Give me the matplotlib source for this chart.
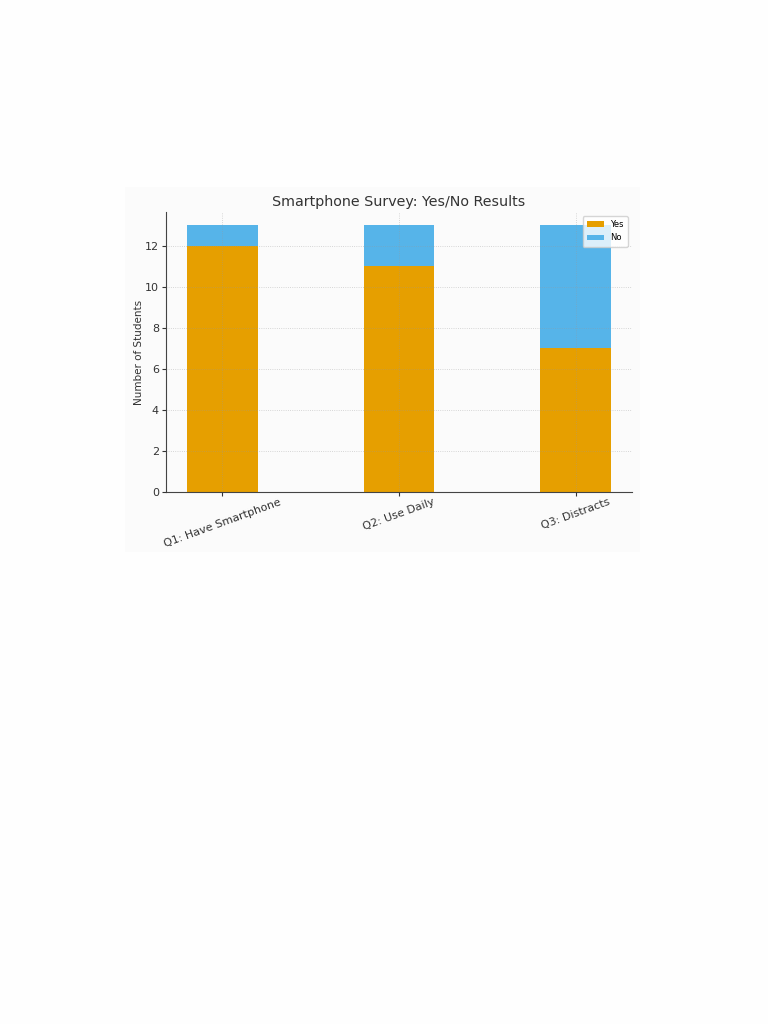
import matplotlib
matplotlib.use('Agg')
import matplotlib.pyplot as plt
from matplotlib.patches import Rectangle

# Survey data
questions = ['Q1: Have Smartphone', 'Q2: Use Daily', 'Q3: Distracts']
yes_counts = [12, 11, 7]
no_counts = [1, 2, 6]

yes_color = '#E69F00'
no_color = '#56B4E9'
text_color = '#333333'

fig = plt.figure(figsize=(7.68, 10.24), dpi=100)
fig.patch.set_facecolor('#fefefe')

# light panel behind the chart, like the embedded image
fig.patches.append(Rectangle((125 / 768, 1 - 552 / 1024), 515 / 768, 365 / 1024,
                             transform=fig.transFigure, facecolor='#fbfbfb',
                             edgecolor='none', zorder=-10))

ax = fig.add_axes([166 / 768, 1 - 492 / 1024, 466 / 768, 280 / 1024])
ax.set_facecolor('none')

x = range(len(questions))
ax.bar(x, yes_counts, width=0.4, color=yes_color, label='Yes', zorder=2)
ax.bar(x, no_counts, width=0.4, bottom=yes_counts, color=no_color, label='No', zorder=2)

ax.set_xticks(list(x))
ax.set_xticklabels(questions, rotation=20, fontsize=8, color=text_color)
ax.set_ylabel('Number of Students', fontsize=7.5, color=text_color, labelpad=1)
ax.set_title('Smartphone Survey: Yes/No Results', fontsize=10.3, color=text_color, pad=4)
ax.tick_params(axis='y', labelsize=8, colors=text_color, length=3, pad=2)
ax.tick_params(axis='x', colors=text_color, length=3, pad=0.5)

# grid sits on top of the bars, faint
ax.set_axisbelow(False)
ax.grid(True, linestyle=':', linewidth=0.6, color='#999999', alpha=0.5, zorder=3)
ax.spines['top'].set_visible(False)
ax.spines['right'].set_visible(False)
ax.spines['left'].set_color('#444444')
ax.spines['bottom'].set_color('#444444')

ax.legend(loc='upper right', fontsize=6, frameon=True, handlelength=2, borderpad=0.5)

fig.savefig('out.png', dpi=100, facecolor=fig.get_facecolor())
